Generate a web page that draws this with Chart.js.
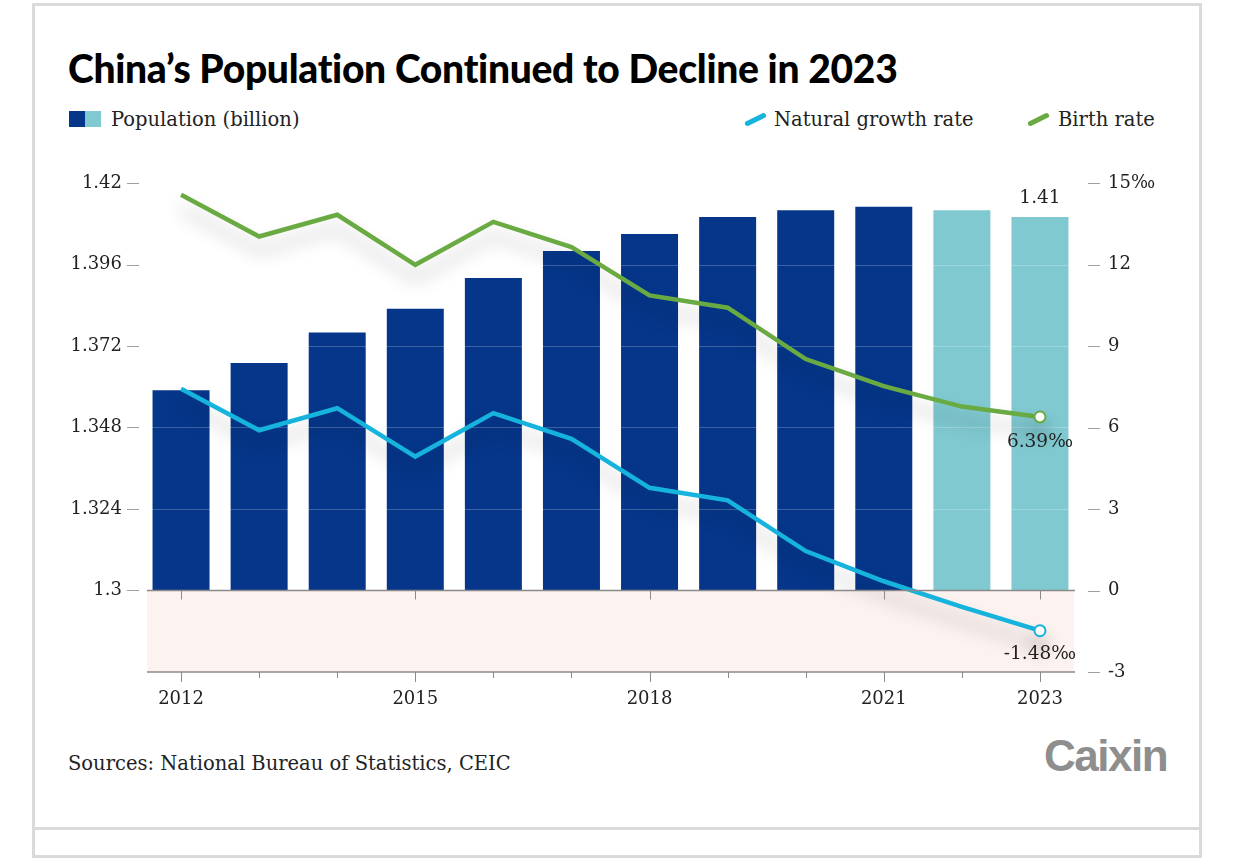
<!DOCTYPE html>
<html>
<head>
<meta charset="utf-8">
<script src="https://cdn.jsdelivr.net/npm/chart.js@4.4.1/dist/chart.umd.min.js"></script>
<style>
  html, body { margin: 0; padding: 0; background: #fff; }
  body { width: 1239px; height: 868px; position: relative; overflow: hidden; }
  .box { position: absolute; box-sizing: border-box; border: 3px solid #dadada; }
  .txt { position: absolute; white-space: nowrap; color: #222; font-family: "DejaVu Serif", serif; font-size: 19.5px; }
  #title { position: absolute; white-space: nowrap; left: 68px; top: 45px; font-family: Lato, sans-serif; font-weight: 900; font-size: 39px; color: #000; letter-spacing: -0.3px; }
  .sq { position: absolute; width: 16px; height: 16px; top: 111px; }
  .mk { position: absolute; width: 23px; height: 5px; border-radius: 3px; transform: rotate(-26deg); }
  #logo { position: absolute; left: 1044px; top: 731px; font-family: "Liberation Sans", Arial, sans-serif; font-weight: bold; font-size: 44px; color: #8e8e8e; letter-spacing: -1.5px; }
  canvas { position: absolute; left: 0; top: 0; }
</style>
</head>
<body>
<div class="box" style="left:32px; top:3px; width:1170px; height:827px;"></div>
<div class="box" style="left:32px; top:827px; width:1170px; height:31px;"></div>

<div id="title">China’s Population Continued to Decline in 2023</div>

<div class="sq" style="left:69px; background:#06368a;"></div>
<div class="sq" style="left:85px; background:#80c9d1;"></div>
<div class="txt" style="left:111px; top:108px;">Population (billion)</div>

<div class="mk" style="left:744px; top:117px; background:#16b4dd;"></div>
<div class="txt" style="left:774px; top:108px;">Natural growth rate</div>
<div class="mk" style="left:1027px; top:117px; background:#6aaa42;"></div>
<div class="txt" style="left:1058px; top:108px;">Birth rate</div>

<div class="txt" style="left:68px; top:752px;">Sources: National Bureau of Statistics, CEIC</div>
<div id="logo">Caixin</div>

<canvas id="chart" width="1239" height="868"></canvas>

<script>
// data
const years = ['2012', '2013', '2014', '2015', '2016', '2017', '2018', '2019', '2020', '2021', '2022', '2023'];
const labelledYears = ['2012', '2015', '2018', '2021', '2023'];
const population = [1.359, 1.367, 1.376, 1.383, 1.392, 1.400, 1.405, 1.410, 1.412, 1.413, 1.412, 1.410];
const birthRate = [14.57, 13.03, 13.83, 11.99, 13.57, 12.64, 10.86, 10.41, 8.52, 7.52, 6.77, 6.39];
const naturalGrowth = [7.43, 5.90, 6.71, 4.93, 6.53, 5.58, 3.78, 3.32, 1.45, 0.34, -0.60, -1.48];
const leftTicks = [1.3, 1.324, 1.348, 1.372, 1.396, 1.42];
const rightTicks = [-3, 0, 3, 6, 9, 12, 15];

const DARK = '#06368a';
const LIGHT = '#80c9d1';
const GREEN = '#6aaa42';
const CYAN = '#16b4dd';
const serif = '"DejaVu Serif", serif';

const barColors = years.map((y, i) => i < 10 ? DARK : LIGHT);
const last = years.length - 1;

const decor = {
    id: 'decor',
    beforeDatasetsDraw(chart) {
        const { ctx, chartArea } = chart;
        const y0 = chart.scales.yR.getPixelForValue(0);
        ctx.save();
        ctx.fillStyle = '#fcf2ef';
        ctx.fillRect(chartArea.left + 5, y0, chartArea.right - chartArea.left - 10, chartArea.bottom - y0);
        ctx.restore();
    },
    beforeDatasetDraw(chart, args) {
        if (chart.data.datasets[args.index].type === 'line') {
            const ctx = chart.ctx;
            ctx.save();
            ctx.shadowColor = 'rgba(0,0,0,0.25)';
            ctx.shadowBlur = 18;
            ctx.shadowOffsetY = 14;
        }
    },
    afterDatasetDraw(chart, args) {
        const ctx = chart.ctx;
        const ds = chart.data.datasets[args.index];
        if (ds.type === 'line') {
            ctx.restore();
            return;
        }
        // faint grid lines over the bars
        const { chartArea } = chart;
        const yL = chart.scales.yL;
        ctx.save();
        ctx.strokeStyle = 'rgba(255,255,255,0.22)';
        ctx.lineWidth = 1;
        leftTicks.forEach(v => {
            if (v === 1.3) return;
            const y = Math.round(yL.getPixelForValue(v)) + 0.5;
            ctx.beginPath();
            ctx.moveTo(chartArea.left, y);
            ctx.lineTo(chartArea.right, y);
            ctx.stroke();
        });
        ctx.restore();
    },
    afterDraw(chart) {
        const { ctx, chartArea } = chart;
        const x = chart.scales.x, yL = chart.scales.yL, yR = chart.scales.yR;
        const y0 = yR.getPixelForValue(0);
        ctx.save();
        ctx.strokeStyle = '#8a8a8a';
        ctx.lineWidth = 1.5;
        ctx.beginPath();
        ctx.moveTo(chartArea.left + 5, y0);
        ctx.lineTo(chartArea.right - 4, y0);
        ctx.moveTo(chartArea.left + 5, chartArea.bottom);
        ctx.lineTo(chartArea.right - 4, chartArea.bottom);
        ctx.stroke();
        ctx.lineWidth = 1;
        ctx.beginPath();
        years.forEach((yr, i) => {
            const px = Math.round(x.getPixelForValue(i)) + 0.5;
            const major = labelledYears.includes(yr);
            if (major) {
                ctx.moveTo(px, y0);
                ctx.lineTo(px, y0 + 9);
            }
            ctx.moveTo(px, chartArea.bottom);
            ctx.lineTo(px, chartArea.bottom + (major ? 10 : 6));
        });
        ctx.stroke();
        // side dashes next to the value labels
        ctx.strokeStyle = '#a0a0a0';
        ctx.beginPath();
        leftTicks.forEach(v => {
            const py = Math.round(yL.getPixelForValue(v)) + 0.5;
            ctx.moveTo(chartArea.left - 15, py);
            ctx.lineTo(chartArea.left - 3, py);
        });
        rightTicks.forEach(v => {
            const py = Math.round(yR.getPixelForValue(v)) + 0.5;
            ctx.moveTo(chartArea.right + 9, py);
            ctx.lineTo(chartArea.right + 21, py);
        });
        ctx.stroke();

        // end labels
        ctx.fillStyle = '#222';
        ctx.font = '18.5px ' + serif;
        ctx.textAlign = 'center';
        ctx.textBaseline = 'middle';
        const bar = chart.getDatasetMeta(0).data[last];
        ctx.fillText(population[last].toFixed(2), bar.x, bar.y - 19);
        const pB = chart.getDatasetMeta(2).data[last];
        ctx.fillText(birthRate[last].toFixed(2) + '‰', pB.x, pB.y + 25);
        const pN = chart.getDatasetMeta(1).data[last];
        ctx.fillText(naturalGrowth[last].toFixed(2) + '‰', pN.x, pN.y + 23);
        ctx.restore();
    }
};

const endPoint = (color) => ({
    pointRadius: years.map((y, i) => i === last ? 5.5 : 0),
    pointBackgroundColor: '#fff',
    pointBorderColor: color,
    pointBorderWidth: 2,
    pointHoverRadius: 0
});

new Chart(document.getElementById('chart'), {
    data: {
        labels: years,
        datasets: [
            {
                type: 'bar',
                label: 'Population (billion)',
                data: population,
                yAxisID: 'yL',
                base: 1.3,
                backgroundColor: barColors,
                borderWidth: 0,
                barPercentage: 0.73,
                categoryPercentage: 1,
                order: 3
            },
            Object.assign({
                type: 'line',
                label: 'Natural growth rate',
                data: naturalGrowth,
                yAxisID: 'yR',
                borderColor: CYAN,
                borderWidth: 4.5,
                tension: 0,
                order: 2
            }, endPoint(CYAN)),
            Object.assign({
                type: 'line',
                label: 'Birth rate',
                data: birthRate,
                yAxisID: 'yR',
                borderColor: GREEN,
                borderWidth: 4.5,
                tension: 0,
                order: 1
            }, endPoint(GREEN))
        ]
    },
    options: {
        responsive: false,
        animation: false,
        events: [],
        layout: { padding: { top: 183, left: 0, right: 0, bottom: 0 } },
        plugins: { legend: { display: false }, tooltip: { enabled: false } },
        scales: {
            x: {
                type: 'category',
                offset: true,
                grid: { display: false, drawTicks: false },
                border: { display: false },
                ticks: {
                    autoSkip: false,
                    maxRotation: 0,
                    padding: 17,
                    color: '#222',
                    font: { family: serif, size: 18 },
                    callback: (v, i) => labelledYears.includes(years[i]) ? years[i] : ''
                },
                afterFit: s => { s.height = 196; }
            },
            yL: {
                position: 'left',
                min: 1.276,
                max: 1.42,
                grid: { display: false, drawTicks: false },
                border: { display: false },
                afterBuildTicks: s => { s.ticks = leftTicks.map(v => ({ value: v })); },
                ticks: {
                    padding: 20,
                    color: '#222',
                    font: { family: serif, size: 18 },
                    callback: v => String(+v.toFixed(3))
                },
                afterFit: s => { s.width = 142; }
            },
            yR: {
                position: 'right',
                min: -3,
                max: 15,
                grid: { display: false, drawTicks: false },
                border: { display: false },
                afterBuildTicks: s => { s.ticks = rightTicks.map(v => ({ value: v })); },
                ticks: {
                    padding: 29,
                    color: '#222',
                    font: { family: serif, size: 18 },
                    callback: v => v === 15 ? '15‰' : String(v)
                },
                afterFit: s => { s.width = 160; }
            }
        }
    },
    plugins: [decor]
});
</script>
</body>
</html>
